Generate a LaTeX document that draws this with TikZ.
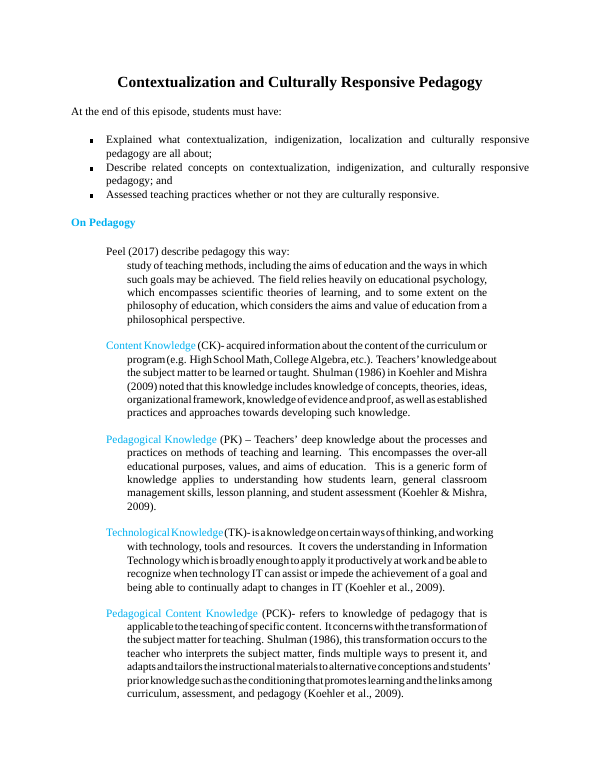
\documentclass[tikz,border=0pt]{standalone}
\usepackage{fontspec}
\setmainfont{Liberation Serif}
\definecolor{hd}{RGB}{0,176,240}
\tikzset{ln/.style={anchor=base west,inner sep=0pt,font=\fontsize{11.3}{13}\selectfont}}
\newcommand{\J}[2]{\makebox[#1][s]{\spaceskip=0.2em plus 1em minus 0.1em #2}}
\begin{document}
\begin{tikzpicture}[x=1pt,y=1pt]
\useasboundingbox[fill=white] (0,0) rectangle (600,-776);
\node[anchor=base,inner sep=0pt,font=\fontsize{15.5}{18}\selectfont\bfseries] (title) at (300,-88) {Contextualization and Culturally Responsive Pedagogy};
\node[ln] (intro) at (71,-115) {At the end of this episode, students must have:};
% bullets
\foreach \y in {143,171,198}{\fill (89.5,-\y+0.5) rectangle ++(3.5,3.5);}
\node[ln] (b1a) at (106,-143) {\J{423pt}{Explained what contextualization, indigenization, localization and culturally responsive}};
\node[ln] (b1b) at (106,-157) {pedagogy are all about;};
\node[ln] (b2a) at (106,-171) {\J{423pt}{Describe related concepts on contextualization, indigenization, and culturally responsive}};
\node[ln] (b2b) at (106,-184) {pedagogy; and};
\node[ln] (b3a) at (106,-198) {Assessed teaching practices whether or not they are culturally responsive.};
\node[ln,font=\fontsize{11.3}{13}\selectfont\bfseries,text=hd] (onp) at (71,-226) {On Pedagogy};
\node[ln] (peel) at (106,-255) {Peel (2017) describe pedagogy this way:};
\node[ln] (q1) at (127,-269) {\J{360pt}{study of teaching methods, including the aims of education and the ways in which}};
\node[ln] (q2) at (127,-283) {\J{360pt}{such goals may be achieved. The field relies heavily on educational psychology,}};
\node[ln] (q3) at (127,-296) {\J{360pt}{which encompasses scientific theories of learning, and to some extent on the}};
\node[ln] (q4) at (127,-309) {\J{360pt}{philosophy of education, which considers the aims and value of education from a}};
\node[ln] (q5) at (127,-323) {philosophical perspective.};
% CK
\node[ln] (c1) at (106,-349) {\J{381pt}{\textcolor{hd}{Content Knowledge} (CK)- acquired information about the content of the curriculum or}};
\node[ln] (c2) at (127,-363) {\J{360pt}{program (e.g. High School Math, College Algebra, etc.). Teachers' knowledge about}};
\node[ln] (c3) at (127,-376) {\J{360pt}{the subject matter to be learned or taught. Shulman (1986) in Koehler and Mishra}};
\node[ln] (c4) at (127,-390) {\J{360pt}{(2009) noted that this knowledge includes knowledge of concepts, theories, ideas,}};
\node[ln] (c5) at (127,-403) {\J{360pt}{organizational framework, knowledge of evidence and proof, as well as established}};
\node[ln] (c6) at (127,-416) {practices and approaches towards developing such knowledge.};
% PK
\node[ln] (p1) at (106,-443) {\J{381pt}{\textcolor{hd}{Pedagogical Knowledge} (PK) -- Teachers' deep knowledge about the processes and}};
\node[ln] (p2) at (127,-456) {\J{360pt}{practices on methods of teaching and learning. This encompasses the over-all}};
\node[ln] (p3) at (127,-470) {\J{360pt}{educational purposes, values, and aims of education. \ This is a generic form of}};
\node[ln] (p4) at (127,-483) {\J{360pt}{knowledge applies to understanding how students learn, general classroom}};
\node[ln] (p5) at (127,-496) {\J{360pt}{management skills, lesson planning, and student assessment (Koehler \& Mishra,}};
\node[ln] (p6) at (127,-510) {2009).};
% TK
\node[ln] (t1) at (106,-536) {\J{381pt}{\textcolor{hd}{Technological Knowledge} (TK)- is a knowledge on certain ways of thinking, and working}};
\node[ln] (t2) at (127,-550) {\J{360pt}{with technology, tools and resources. \ It covers the understanding in Information}};
\node[ln] (t3) at (127,-564) {\J{360pt}{Technology which is broadly enough to apply it productively at work and be able to}};
\node[ln] (t4) at (127,-577) {\J{360pt}{recognize when technology IT can assist or impede the achievement of a goal and}};
\node[ln] (t5) at (127,-591) {being able to continually adapt to changes in IT (Koehler et al., 2009).};
% PCK
\node[ln] (k1) at (106,-617) {\J{381pt}{\textcolor{hd}{Pedagogical Content Knowledge} (PCK)- refers to knowledge of pedagogy that is}};
\node[ln] (k2) at (127,-630) {\J{360pt}{applicable to the teaching of specific content. It concerns with the transformation of}};
\node[ln] (k3) at (127,-643) {\J{360pt}{the subject matter for teaching. Shulman (1986), this transformation occurs to the}};
\node[ln] (k4) at (127,-657) {\J{360pt}{teacher who interprets the subject matter, finds multiple ways to present it, and}};
\node[ln] (k5) at (127,-670) {\J{360pt}{adapts and tailors the instructional materials to alternative conceptions and students'}};
\node[ln] (k6) at (127,-684) {\J{360pt}{prior knowledge such as the conditioning that promotes learning and the links among}};
\node[ln] (k7) at (127,-697) {curriculum, assessment, and pedagogy (Koehler et al., 2009).};
\end{tikzpicture}
\end{document}
